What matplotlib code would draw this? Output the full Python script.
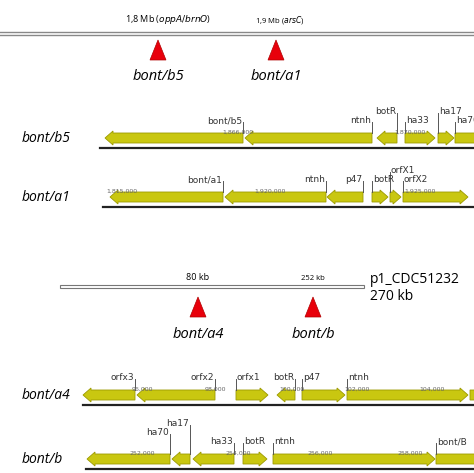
import matplotlib.pyplot as plt
from matplotlib.patches import Polygon

plt.rcParams['font.family'] = ['Open Sans', 'DejaVu Sans']

W, H = 474, 473

# genes per track: (start, end, strand, label, label_level)
genes_b5 = [(105, 243, -1, 'bont/b5', 0), (245, 372, -1, 'ntnh', 0), (377, 397, -1, 'botR', 1),
            (405, 435, 1, 'ha33', 0), (438, 454, 1, 'ha17', 1), (455, 490, 1, 'ha70', 0)]
ticks_b5 = [(238, '1,866,000'), (410, '1,870,000')]
genes_a1 = [(110, 223, -1, 'bont/a1', 0), (225, 326, -1, 'ntnh', 0), (327, 363, -1, 'p47', 0),
            (372, 388, 1, 'botR', 0), (390, 401, 1, 'orfX1', 1), (403, 468, 1, 'orfX2', 0)]
ticks_a1 = [(122, '1,815,000'), (270, '1,920,000'), (420, '1,925,000')]
genes_a4 = [(83, 135, -1, 'orfx3', 0), (137, 215, -1, 'orfx2', 0), (236, 268, 1, 'orfx1', 0),
            (277, 295, -1, 'botR', 0), (302, 345, 1, 'p47', 0), (347, 468, 1, 'ntnh', 0),
            (470, 490, 1, '', 0)]
ticks_a4 = [(142, '96,000'), (215, '98,000'), (292, '100,000'), (357, '102,000'), (432, '104,000')]
genes_b = [(87, 170, -1, 'ha70', 1), (172, 190, -1, 'ha17', 2), (193, 234, -1, 'ha33', 0),
           (243, 267, 1, 'botR', 0), (273, 435, 1, 'ntnh', 0), (436, 490, 1, 'bont/B', 0)]
ticks_b = [(142, '252,000'), (238, '254,000'), (320, '256,000'), (410, '258,000')]

tracks = [('bont/b5', genes_b5, ticks_b5, 138, 100),
          ('bont/a1', genes_a1, ticks_a1, 197, 103),
          ('bont/a4', genes_a4, ticks_a4, 395, 83),
          ('bont/b', genes_b, ticks_b, 459, 86)]

fig = plt.figure(figsize=(W / 100, H / 100), dpi=100)
ax = fig.add_axes([0, 0, 1, 1])
ax.set_xlim(0, W)
ax.set_ylim(H, 0)
ax.axis('off')

def arrow(ax, s, e, strand, yc, h=10, head=8):
    if strand > 0:
        pts = [(s, yc - h / 2), (e - head, yc - h / 2), (e - head, yc - h / 2 - 2), (e, yc),
               (e - head, yc + h / 2 + 2), (e - head, yc + h / 2), (s, yc + h / 2)]
    else:
        pts = [(e, yc - h / 2), (s + head, yc - h / 2), (s + head, yc - h / 2 - 2), (s, yc),
               (s + head, yc + h / 2 + 2), (s + head, yc + h / 2), (e, yc + h / 2)]
    ax.add_patch(Polygon(pts, closed=True, fc='#c9c710', ec='#9c9a00', lw=0.6))

for name, genes, ticks, yc, x0 in tracks:
    ax.plot([x0, W], [yc + 10, yc + 10], color='#222222', lw=1.6)
    ax.text(22, yc, name, fontsize=10, style='italic', va='center', ha='left')
    for s, e, strand, lab, lev in genes:
        arrow(ax, s, e, strand, yc)
        if lab:
            anchor = e if strand < 0 else s
            ly = yc - 16 - lev * 9
            ax.plot([anchor, anchor], [ly, yc - 5], color='#555555', lw=0.7)
            ax.text(anchor + (-1 if strand < 0 else 1), ly + 3, lab, fontsize=6.5,
                    ha='right' if strand < 0 else 'left', va='bottom', color='#333333',
                    family='DejaVu Sans', clip_on=True)
    for tx, tl in ticks:
        ax.text(tx, yc - 3, tl, fontsize=4.5, ha='center', va='bottom', color='#666666',
                family='DejaVu Sans')

# chromosome
ax.plot([0, W], [32, 32], color='#888888', lw=1)
ax.plot([0, W], [35, 35], color='#888888', lw=1)
chrom_marks = [(158, r'1,8 Mb ($\it{oppA/brnO}$)', 'bont/b5', 168, 6.5),
               (276, r'1,9 Mb ($\it{arsC}$)', 'bont/a1', 280, 5.5)]
for x, lab, g, lx, fs in chrom_marks:
    ax.text(lx, 26, lab, fontsize=fs, ha='center', va='bottom')
    ax.add_patch(Polygon([(x - 8, 60), (x + 8, 60), (x, 40)], fc='#e8000b', ec='#b00000', lw=0.5))
    ax.text(x, 77, g, fontsize=10.5, style='italic', ha='center', va='center')

# plasmid
ax.add_patch(plt.Rectangle((60, 285), 304, 3, fc='white', ec='#777777', lw=0.8))
plas_marks = [(198, '80 kb', 'bont/a4', 6.5), (313, '252 kb', 'bont/b', 5.5)]
for x, lab, g, fs in plas_marks:
    ax.text(x, 282, lab, fontsize=fs, ha='center', va='bottom')
    ax.add_patch(Polygon([(x - 8, 317), (x + 8, 317), (x, 297)], fc='#e8000b', ec='#b00000', lw=0.5))
    ax.text(x, 334, g, fontsize=10.5, style='italic', ha='center', va='center')
ax.text(370, 279, 'p1_CDC51232', fontsize=10, ha='left', va='center')
ax.text(370, 296, '270 kb', fontsize=10, ha='left', va='center')

fig.savefig('out.png', dpi=100)
